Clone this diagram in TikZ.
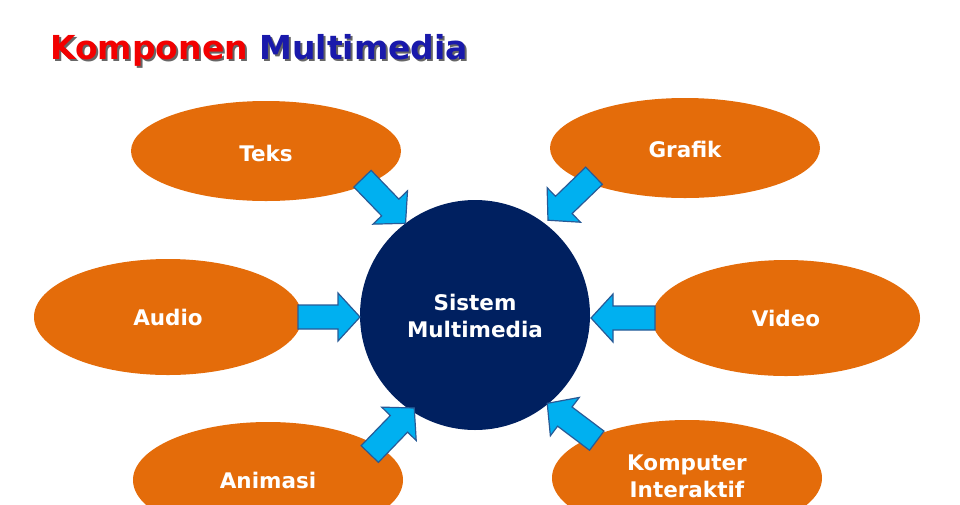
\documentclass[tikz,border=0pt]{standalone}
\usepackage{fontspec}
\setmainfont{DejaVu Sans}
\begin{document}
\begin{tikzpicture}[x=1pt,y=1pt,
  oval/.style={draw=none,fill={rgb,255:red,228;green,108;blue,10}},
  lab/.style={text=white,font=\bfseries\fontsize{21.5}{27}\selectfont,align=center},
  arr/.style={fill={rgb,255:red,0;green,176;blue,240},draw={rgb,255:red,40;green,90;blue,150},line width=1.2pt,line join=miter}]
\useasboundingbox (0,0) rectangle (960,-504);
\clip (0,0) rectangle (960,-504);
\newcommand\blockarrow[4]{% x y angle length
  \begin{scope}[shift={(#1,-#2)},rotate=#3]
  \draw[arr] (-#4/2,-12) -- (#4/2-22,-12) -- (#4/2-22,-24) -- (#4/2,0) -- (#4/2-22,24) -- (#4/2-22,12) -- (-#4/2,12) -- cycle;
  \end{scope}}
% title with shadow
\node[anchor=west,font=\bfseries\fontsize{33}{40}\selectfont,inner sep=0,text=black!60] (titleshadow) at (52,-52)
  {Komponen Multimedia};
\node[anchor=west,font=\bfseries\fontsize{33}{40}\selectfont,inner sep=0] (title) at (50,-50)
  {\textcolor[rgb]{0.95,0,0}{Komponen} \textcolor[rgb]{0.1,0.1,0.67}{Multimedia}};
% ellipses
\fill[oval] (266,-151) ellipse (135 and 50);
\fill[oval] (685,-148) ellipse (135 and 50);
\fill[oval] (168,-317) ellipse (134 and 58);
\fill[oval] (786,-318) ellipse (134 and 58);
\fill[oval] (268,-480) ellipse (135 and 58);
\fill[oval] (687,-478) ellipse (135 and 58);
\node[lab] (teks) at (266,-153) {Teks};
\node[lab] (grafik) at (685,-149) {Grafik};
\node[lab] (audio) at (168,-317) {Audio};
\node[lab] (video) at (786,-318) {Video};
\node[lab] (animasi) at (268,-480) {Animasi};
\node[lab] (komp) at (687,-476) {Komputer\\Interaktif};
% center
\fill[fill={rgb,255:red,0;green,32;blue,96}] (475,-315) circle (115);
\node[lab] (sistem) at (475,-316) {Sistem\\Multimedia};
% arrows
\blockarrow{384}{201}{-46}{62}
\blockarrow{571}{198}{224}{64}
\blockarrow{329}{317}{0}{62}
\blockarrow{623}{318}{180}{64}
\blockarrow{392}{431}{46}{64}
\blockarrow{572}{422}{143}{62}
\end{tikzpicture}
\end{document}
